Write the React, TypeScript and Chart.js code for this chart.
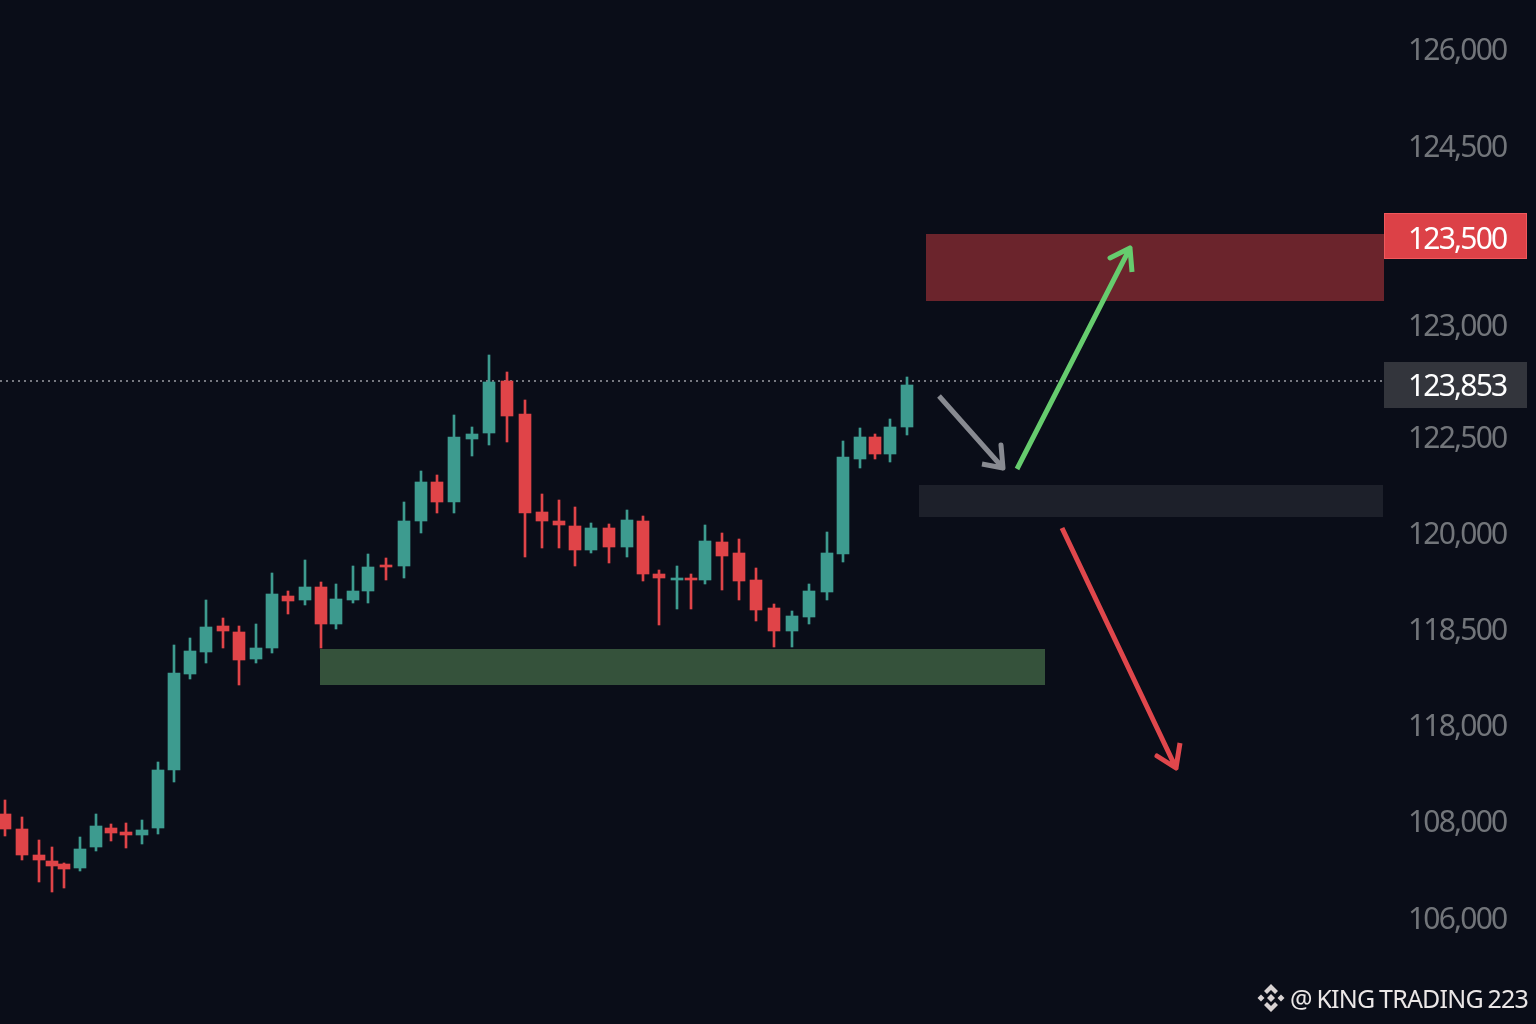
import React, { useEffect, useRef } from "react";
import { Chart, registerables } from "chart.js";

Chart.register(...registerables);

const BG = "#0a0d18";
const UP = "#3d9b8f";
const DOWN = "#e04448";

const times = [5, 22, 39, 52, 64, 80, 96, 111, 126, 142, 158, 174, 190, 206, 223, 239, 256, 272, 288, 305, 321, 336, 353, 368, 386, 404, 421, 437, 454, 472, 489, 507, 525, 542, 559, 575, 591, 609, 627, 643, 659, 677, 691, 705, 722, 739, 756, 774, 792, 809, 827, 843, 860, 875, 890, 907];
const opens = [106875, 106500, 105850, 105700, 105625, 105525, 106050, 106525, 106425, 106350, 106525, 107975, 110375, 110925, 111575, 111425, 110750, 111025, 112325, 112225, 112550, 111625, 112225, 112450, 113100, 113075, 114200, 115175, 114675, 116250, 116400, 117700, 116875, 114425, 114200, 114075, 113475, 114025, 113550, 114200, 112875, 112725, 112775, 112725, 113675, 113400, 112725, 112025, 111450, 111800, 112425, 113375, 115750, 116300, 115875, 116550];
const closes = [106500, 105850, 105725, 105575, 105500, 106000, 106575, 106400, 106350, 106475, 107975, 110400, 110950, 111550, 111450, 110725, 111025, 112375, 112200, 112550, 111625, 112250, 112450, 113050, 113050, 114200, 115175, 114675, 116300, 116375, 117675, 116825, 114400, 114200, 114100, 113475, 114025, 113550, 114225, 112875, 112775, 112775, 112725, 113700, 113325, 112700, 111975, 111450, 111825, 112450, 113400, 115800, 116300, 115875, 116550, 117600];
const highs = [107225, 106800, 106225, 106050, 105650, 106300, 106875, 106625, 106650, 106725, 108175, 111100, 111275, 112225, 111775, 111575, 111625, 112900, 112450, 113225, 112675, 112625, 113075, 113375, 113275, 114675, 115450, 115350, 116850, 116550, 118350, 117925, 117225, 114875, 114725, 114550, 114150, 114125, 114475, 114325, 112975, 113075, 112875, 114100, 113900, 113750, 113025, 112125, 111950, 112625, 113925, 116200, 116525, 116375, 116750, 117800];
const lows = [106325, 105725, 105175, 104925, 105025, 105450, 105950, 106200, 106025, 106125, 106375, 107675, 110250, 110650, 111025, 110100, 110650, 110900, 111875, 112100, 111025, 111500, 112150, 112150, 112725, 112775, 113900, 114400, 114400, 115825, 116100, 116175, 113300, 113525, 113525, 113075, 113400, 113150, 113300, 112700, 111600, 112000, 112000, 112625, 112475, 112225, 111700, 111050, 111050, 111625, 112225, 113175, 115525, 115750, 115675, 116350];

const tickValues = [126000, 123575, 121275, 119100, 117600, 116300, 113900, 111500, 109100, 106700, 104275];
const tickLabels = ["126,000", "124,500", "123,500", "123,000", "123,853", "122,500", "120,000", "118,500", "118,000", "108,000", "106,000"];
const RED_BADGE = 2;
const GREY_BADGE = 4;

const zones = [
  { from: 926, to: 1384, top: 121375, bottom: 119700, color: "#6b242c" },
  { from: 919, to: 1383, top: 115100, bottom: 114300, color: "#1d202a" },
  { from: 320, to: 1045, top: 111000, bottom: 110100, color: "#35523b" },
];

const badges = [
  { from: 1384, to: 1527, top: 121900, bottom: 120750, color: "#dc4147", edge: "#f0585c" },
  { from: 1384, to: 1527, top: 118175, bottom: 117025, color: "#33353c", edge: "#33353c" },
];

const lastPrice = 117700;
const lastPriceSpan = [0, 1384];

const greyArrow = [{ x: 939, y: 117325 }, { x: 1003, y: 115525 }, { x: 1001, y: 116100 }, { x: 1003, y: 115525 }, { x: 982, y: 115625 }];
const greenArrow = [{ x: 1017, y: 115500 }, { x: 1130, y: 121025 }, { x: 1110, y: 120775 }, { x: 1130, y: 121025 }, { x: 1132, y: 120425 }];
const redArrow = [{ x: 1062, y: 114025 }, { x: 1176, y: 108025 }, { x: 1157, y: 108325 }, { x: 1176, y: 108025 }, { x: 1180, y: 108650 }];

const zonePlugin = {
  id: "zones",
  beforeDraw(chart: any) {
    const { ctx, scales } = chart;
    ctx.save();
    for (const b of badges) {
      const x0 = scales.x.getPixelForValue(b.from);
      const x1 = scales.x.getPixelForValue(b.to);
      const y0 = scales.y.getPixelForValue(b.top);
      const y1 = scales.y.getPixelForValue(b.bottom);
      ctx.fillStyle = b.color;
      ctx.fillRect(x0, y0, x1 - x0, y1 - y0);
      ctx.strokeStyle = b.edge;
      ctx.lineWidth = 1;
      ctx.strokeRect(x0 + 0.5, y0 + 0.5, x1 - x0 - 1, y1 - y0 - 1);
    }
    ctx.restore();
  },
  beforeDatasetsDraw(chart: any) {
    const { ctx, scales } = chart;
    ctx.save();
    for (const z of zones) {
      const x0 = scales.x.getPixelForValue(z.from);
      const x1 = scales.x.getPixelForValue(z.to);
      const y0 = scales.y.getPixelForValue(z.top);
      const y1 = scales.y.getPixelForValue(z.bottom);
      ctx.fillStyle = z.color;
      ctx.fillRect(x0, y0, x1 - x0, y1 - y0);
    }
    ctx.restore();
  },
};

const tightLabels = {
  id: "tightLabels",
  beforeUpdate(chart: any) {
    chart.ctx.letterSpacing = "-1.8px";
  },
  beforeDraw(chart: any) {
    chart.ctx.letterSpacing = "-1.8px";
  },
};

export default function App() {
  const ref = useRef<HTMLCanvasElement>(null);
  useEffect(() => {
    document.body.style.margin = "0";
    document.body.style.background = BG;
    const colors = opens.map((o, i) => (closes[i] >= o ? UP : DOWN));
    const line = (data: any[], color: string, width: number, extra: any = {}) => ({
      type: "line",
      data,
      borderColor: color,
      borderWidth: width,
      pointRadius: 0,
      tension: 0,
      borderCapStyle: "butt",
      borderJoinStyle: "round",
      order: 0,
      ...extra,
    });
    const chart = new Chart(ref.current!, {
      type: "bar",
      data: {
        datasets: [
          line(
            lastPriceSpan.map((x) => ({ x, y: lastPrice })),
            "#e4e6ea",
            1,
            { borderDash: [2, 4], order: 3 }
          ),
          {
            type: "bar",
            label: "wicks",
            data: times.map((x, i) => ({ x, y: [lows[i], highs[i]] })),
            backgroundColor: colors,
            barThickness: 2,
            grouped: false,
            order: 2,
          },
          {
            type: "bar",
            label: "bodies",
            data: times.map((x, i) => ({ x, y: [opens[i], closes[i]] })),
            backgroundColor: colors,
            barThickness: 12,
            grouped: false,
            order: 1,
          },
          line(greyArrow, "#888a91", 5),
          line(greenArrow, "#66cc6e", 5),
          line(redArrow, "#e0474c", 5),
        ] as any,
      },
      options: {
        animation: false,
        responsive: false,
        layout: { padding: 0 },
        plugins: { legend: { display: false }, tooltip: { enabled: false } },
        scales: {
          x: {
            type: "linear",
            min: 0,
            max: 1384,
            offset: false,
            display: false,
            grid: { display: false },
          },
          y: {
            type: "linear",
            position: "right",
            min: 101625,
            max: 127225,
            grid: { display: false, drawTicks: false },
            border: { display: false },
            afterFit(scale: any) {
              scale.width = 152;
              scale.paddingTop = 0;
              scale.paddingBottom = 0;
            },
            afterBuildTicks(scale: any) {
              scale.ticks = tickValues.map((value) => ({ value }));
            },
            ticks: {
              autoSkip: false,
              crossAlign: "near",
              padding: 24,
              labelOffset: 2.5,
              callback: (value: any) => tickLabels[tickValues.indexOf(Number(value))],
              font: { family: "'Noto Sans', sans-serif", size: 30 },
              color: (c: any) =>
                c.index === RED_BADGE || c.index === GREY_BADGE ? "#ffffff" : "#72757a",
            },
          },
        },
      } as any,
      plugins: [tightLabels, zonePlugin],
    });
    return () => chart.destroy();
  }, []);

  return (
    <div style={{ position: "fixed", left: 0, top: 0, width: 1536, height: 1024, background: BG, overflow: "hidden" }}>
      <canvas ref={ref} width={1536} height={1024} style={{ display: "block" }} />
      <div
        style={{
          position: "absolute",
          right: 8,
          top: 981,
          display: "flex",
          alignItems: "center",
          gap: 5,
          fontFamily: "'Noto Sans', sans-serif",
          fontSize: 25,
          letterSpacing: "-0.8px",
          wordSpacing: "-1px",
          lineHeight: "34px",
          color: "#ebe7e7",
          whiteSpace: "nowrap",
        }}
      >
        <svg width="28" height="28" viewBox="0 0 28 28">
          <g fill="#d8d2d2">
            <path d="M14 0 L21 7 L18 10 L14 6 L10 10 L7 7 Z" />
            <path d="M14 28 L21 21 L18 18 L14 22 L10 18 L7 21 Z" />
            <path d="M14 10 L18 14 L14 18 L10 14 Z" />
            <path d="M4 10.5 L7.5 14 L4 17.5 L0.5 14 Z" />
            <path d="M24 10.5 L27.5 14 L24 17.5 L20.5 14 Z" />
          </g>
        </svg>
        <span>@ KING TRADING 223</span>
      </div>
    </div>
  );
}
